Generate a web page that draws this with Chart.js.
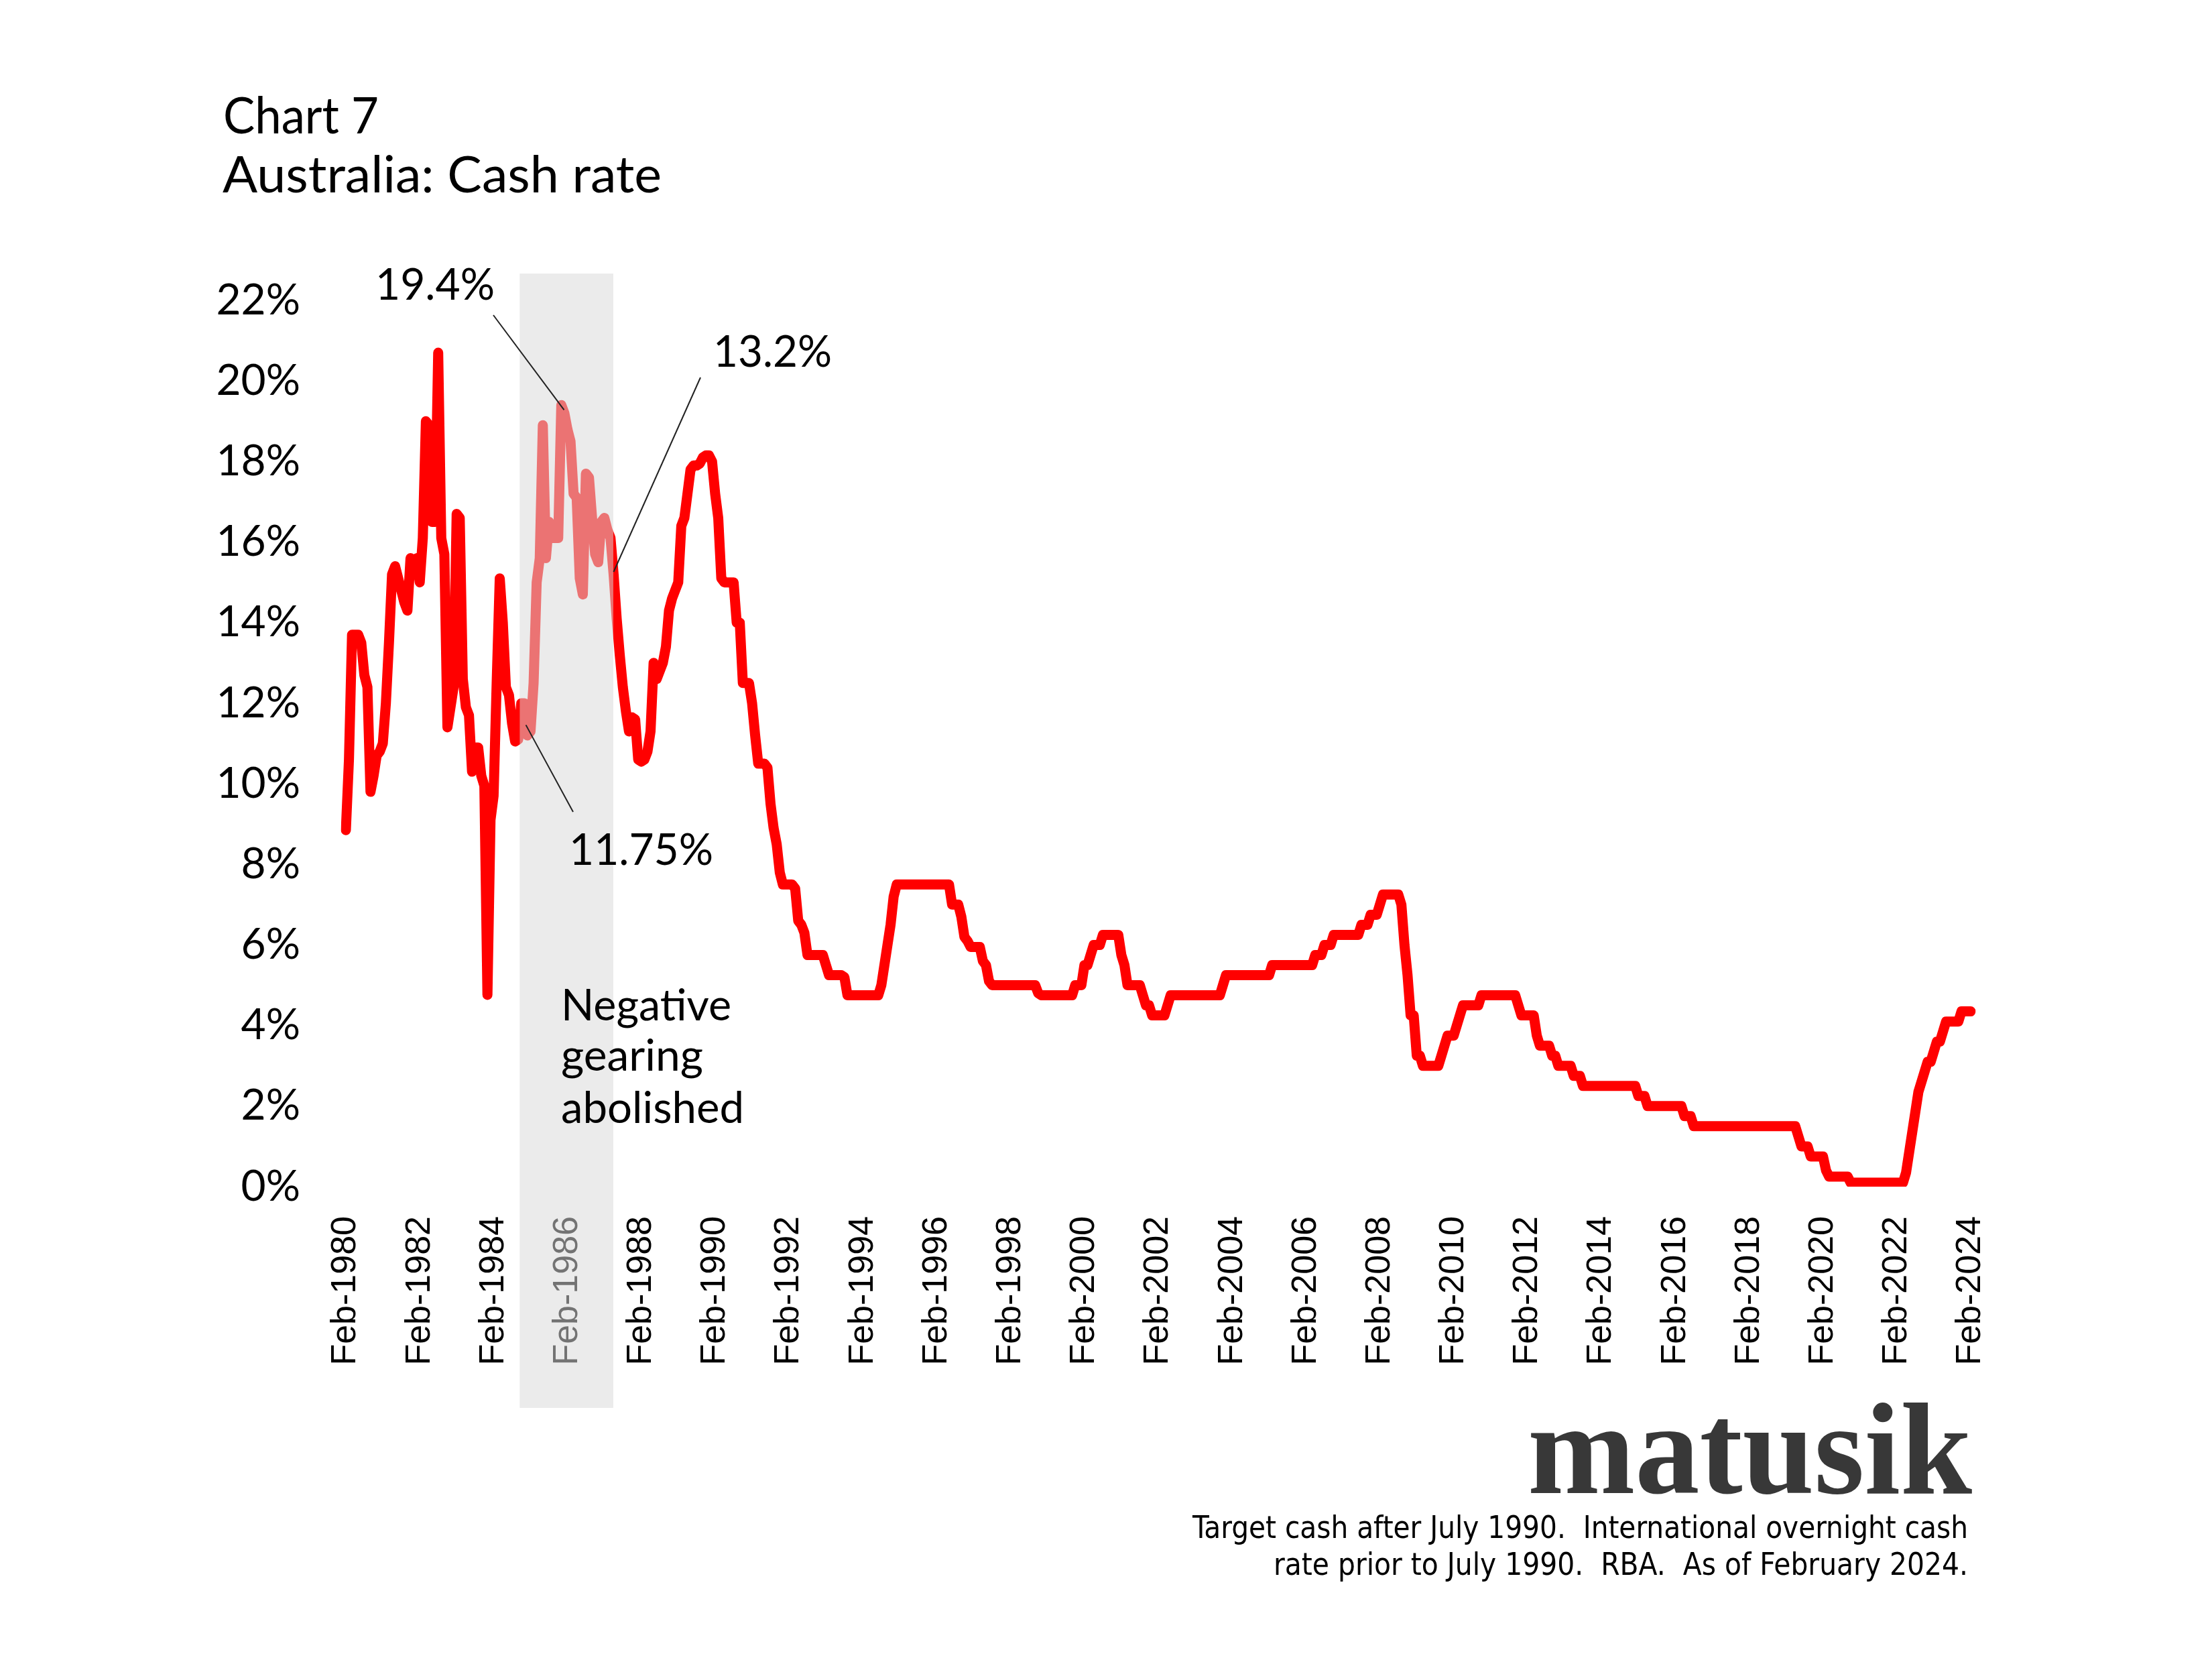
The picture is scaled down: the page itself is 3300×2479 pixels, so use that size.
<!DOCTYPE html>
<html>
<head>
<meta charset="utf-8">
<title>Chart 7 - Australia: Cash rate</title>
<script src="https://cdn.jsdelivr.net/npm/chart.js@4.4.1/dist/chart.umd.min.js"></script>
<style>
  html, body { margin: 0; padding: 0; background: #ffffff; }
  #wrap { width: 3300px; height: 2479px; }
</style>
</head>
<body>
<div id="wrap"><canvas id="cashChart" width="3300" height="2479"></canvas></div>
<script>
// Category labels: monthly, Feb-1980 to Feb-2024
const monthNames = ['Jan', 'Feb', 'Mar', 'Apr', 'May', 'Jun', 'Jul', 'Aug', 'Sep', 'Oct', 'Nov', 'Dec'];
const startYear = 1980;
const startMonth = 1;      // Feb
const monthCount = 529;    // Feb-1980 .. Feb-2024
const tickEvery = 24;      // one label every two years

// Cash rate (%), one value per month
const cash1980s = [
  8.85, 10.6, 13.7, 13.7, 13.7, 13.5, 12.7, 12.4, 9.8, 10.2, 10.7,            // 1980 (Feb-Dec)
  10.8, 11.0, 12.0, 13.5, 15.2, 15.4, 15.1, 14.8, 14.5, 14.3, 15.6, 15.5,     // 1981
  15.6, 15.0, 16.1, 19.0, 18.9, 16.5, 16.5, 20.7, 16.1, 15.7, 11.4, 11.9,     // 1982
  12.4, 16.7, 16.6, 12.6, 11.9, 11.7, 10.3, 10.9, 10.9, 10.2, 9.95, 4.76,     // 1983
  9.1, 9.7, 12.5, 15.1, 14.0, 12.4, 12.2, 11.5, 11.05, 11.1, 12.0, 12.0,      // 1984
  11.2, 11.3, 12.5, 15.0, 15.6, 18.9, 15.6, 16.5, 16.1, 16.1, 16.1, 19.4,     // 1985
  19.2, 18.8, 18.5, 17.2, 17.1, 15.1, 14.7, 17.7, 17.6, 16.6, 15.7, 15.5,     // 1986
  16.5, 16.6, 16.3, 16.1, 15.2, 14.1, 13.2, 12.4, 11.8, 11.3, 11.65, 11.6,    // 1987
  10.6, 10.55, 10.6, 10.8, 11.3, 13.0, 12.6, 12.8, 13.0, 13.4, 14.3, 14.6,    // 1988
  14.8, 15.0, 16.4, 16.6, 17.2, 17.8, 17.9, 17.9, 17.95, 18.1, 18.15, 18.15   // 1989
];
const cash1990s = [
  18.0, 17.2, 16.6, 15.1, 15.0, 15.0, 15.0, 15.0, 14.0, 14.0, 12.5, 12.5,     // 1990
  12.5, 12.0, 11.2, 10.5, 10.5, 10.5, 10.4, 9.5, 8.9, 8.5, 7.8, 7.5,          // 1991
  7.5, 7.5, 7.5, 7.4, 6.6, 6.5, 6.3, 5.75, 5.75, 5.75, 5.75, 5.75,            // 1992
  5.75, 5.5, 5.25, 5.25, 5.25, 5.25, 5.25, 5.2, 4.75, 4.75, 4.75, 4.75,       // 1993
  4.75, 4.75, 4.75, 4.75, 4.75, 4.75, 4.75, 5.0, 5.5, 6.0, 6.5, 7.2,          // 1994
  7.5, 7.5, 7.5, 7.5, 7.5, 7.5, 7.5, 7.5, 7.5, 7.5, 7.5, 7.5,                 // 1995
  7.5, 7.5, 7.5, 7.5, 7.5, 7.5, 7.0, 7.0, 7.0, 6.7, 6.2, 6.1,                 // 1996
  5.95, 5.95, 5.95, 5.95, 5.6, 5.5, 5.1, 5.0, 5.0, 5.0, 5.0, 5.0,             // 1997
  5.0, 5.0, 5.0, 5.0, 5.0, 5.0, 5.0, 5.0, 5.0, 5.0, 4.8, 4.75,                // 1998
  4.75, 4.75, 4.75, 4.75, 4.75, 4.75, 4.75, 4.75, 4.75, 4.75, 5.0, 5.0        // 1999
];
const cash2000s = [
  5.0, 5.5, 5.5, 5.75, 6.0, 6.0, 6.0, 6.25, 6.25, 6.25, 6.25, 6.25,           // 2000
  6.25, 5.75, 5.5, 5.0, 5.0, 5.0, 5.0, 5.0, 4.75, 4.5, 4.5, 4.25,             // 2001
  4.25, 4.25, 4.25, 4.25, 4.5, 4.75, 4.75, 4.75, 4.75, 4.75, 4.75, 4.75,      // 2002
  4.75, 4.75, 4.75, 4.75, 4.75, 4.75, 4.75, 4.75, 4.75, 4.75, 5.0, 5.25,      // 2003
  5.25, 5.25, 5.25, 5.25, 5.25, 5.25, 5.25, 5.25, 5.25, 5.25, 5.25, 5.25,     // 2004
  5.25, 5.25, 5.5, 5.5, 5.5, 5.5, 5.5, 5.5, 5.5, 5.5, 5.5, 5.5,               // 2005
  5.5, 5.5, 5.5, 5.5, 5.75, 5.75, 5.75, 6.0, 6.0, 6.0, 6.25, 6.25,            // 2006
  6.25, 6.25, 6.25, 6.25, 6.25, 6.25, 6.25, 6.5, 6.5, 6.5, 6.75, 6.75,        // 2007
  6.75, 7.0, 7.25, 7.25, 7.25, 7.25, 7.25, 7.25, 7.0, 6.0, 5.25, 4.25,        // 2008
  4.25, 3.25, 3.25, 3.0, 3.0, 3.0, 3.0, 3.0, 3.0, 3.25, 3.5, 3.75             // 2009
];
const cash2010s = [
  3.75, 3.75, 4.0, 4.25, 4.5, 4.5, 4.5, 4.5, 4.5, 4.5, 4.75, 4.75,            // 2010
  4.75, 4.75, 4.75, 4.75, 4.75, 4.75, 4.75, 4.75, 4.75, 4.75, 4.5, 4.25,      // 2011
  4.25, 4.25, 4.25, 4.25, 3.75, 3.5, 3.5, 3.5, 3.5, 3.25, 3.25, 3.0,          // 2012
  3.0, 3.0, 3.0, 3.0, 2.75, 2.75, 2.75, 2.5, 2.5, 2.5, 2.5, 2.5,              // 2013
  2.5, 2.5, 2.5, 2.5, 2.5, 2.5, 2.5, 2.5, 2.5, 2.5, 2.5, 2.5,                 // 2014
  2.5, 2.25, 2.25, 2.25, 2.0, 2.0, 2.0, 2.0, 2.0, 2.0, 2.0, 2.0,              // 2015
  2.0, 2.0, 2.0, 2.0, 1.75, 1.75, 1.75, 1.5, 1.5, 1.5, 1.5, 1.5,              // 2016
  1.5, 1.5, 1.5, 1.5, 1.5, 1.5, 1.5, 1.5, 1.5, 1.5, 1.5, 1.5,                 // 2017
  1.5, 1.5, 1.5, 1.5, 1.5, 1.5, 1.5, 1.5, 1.5, 1.5, 1.5, 1.5,                 // 2018
  1.5, 1.5, 1.5, 1.5, 1.5, 1.25, 1.0, 1.0, 1.0, 0.75, 0.75, 0.75              // 2019
];
const cash2020s = [
  0.75, 0.75, 0.4, 0.25, 0.25, 0.25, 0.25, 0.25, 0.25, 0.25, 0.1, 0.1,        // 2020
  0.1, 0.1, 0.1, 0.1, 0.1, 0.1, 0.1, 0.1, 0.1, 0.1, 0.1, 0.1,                 // 2021
  0.1, 0.1, 0.1, 0.1, 0.35, 0.85, 1.35, 1.85, 2.35, 2.6, 2.85, 3.1,           // 2022
  3.1, 3.35, 3.6, 3.6, 3.85, 4.1, 4.1, 4.1, 4.1, 4.1, 4.35, 4.35,             // 2023
  4.35, 4.35                                                                  // 2024 (Jan-Feb)
];

// Shaded period (category index) and the callouts
const bandStart = 56.5;
const bandEnd = 86.9;
const calloutText = ['19.4%', '13.2%', '11.75%'];
const calloutIndex = [70.9, 87.0, 58.5];
const calloutValue = [19.28, 15.26, 11.46];
const noteLines = ['Negative', 'gearing', 'abolished'];

const titleLines = ['Chart 7', 'Australia: Cash rate'];
const sourceLines = [
  'Target cash after July 1990.  International overnight cash',
  'rate prior to July 1990.  RBA.  As of February 2024.'
];
const brand = 'matusik';

// Build labels and series
let labels = [];
for (let i = 0; i < monthCount; i++) {
  let m = startMonth + i;
  labels.push(monthNames[m % 12] + '-' + (startYear + Math.floor(m / 12)));
}
const cashRate = cash1980s.concat(cash1990s, cash2000s, cash2010s, cash2020s);

const sans = 'Lato, "Noto Sans", sans-serif';

// Draw a line of text scaled horizontally to a given width
function fitText(ctx, text, x, baseline, width, align) {
  let w = ctx.measureText(text).width;
  ctx.save();
  ctx.translate(x, baseline);
  ctx.scale(width / w, 1);
  ctx.textAlign = align;
  ctx.fillText(text, 0, 0);
  ctx.restore();
}

const decorPlugin = {
  id: 'decor',
  beforeDraw(chart) {
    const ctx = chart.ctx;
    ctx.save();
    ctx.fillStyle = '#ffffff';
    ctx.fillRect(0, 0, chart.width, chart.height);
    ctx.restore();
  },
  afterDatasetsDraw(chart) {
    // translucent band on top of line and tick labels
    const ctx = chart.ctx;
    const xs = chart.scales.x;
    const area = chart.chartArea;
    let x0 = xs.getPixelForValue(bandStart);
    let x1 = xs.getPixelForValue(bandEnd);
    ctx.save();
    ctx.fillStyle = 'rgba(217, 217, 217, 0.53)';
    ctx.fillRect(x0, area.top - 40, x1 - x0, area.bottom - area.top + 370);
    ctx.restore();
  },
  afterDraw(chart) {
    const ctx = chart.ctx;
    const xs = chart.scales.x;
    const ys = chart.scales.y;
    ctx.save();
    ctx.fillStyle = '#000000';
    ctx.textBaseline = 'alphabetic';

    // title
    ctx.font = '76px ' + sans;
    fitText(ctx, titleLines[0], 333, 199, 232, 'left');
    fitText(ctx, titleLines[1], 332, 287, 655, 'left');

    // callouts with leader lines
    const textPos = [[560, 447], [1064, 547], [849, 1290]];
    const textWidth = [178, 177, 215];
    const leadFrom = [[736, 470], [1045, 563], [855, 1211]];
    ctx.strokeStyle = '#222222';
    ctx.lineWidth = 2;
    ctx.font = '65px ' + sans;
    for (let i = 0; i < calloutText.length; i++) {
      let px = xs.getPixelForValue(calloutIndex[i]);
      let py = ys.getPixelForValue(calloutValue[i]);
      ctx.beginPath();
      ctx.moveTo(leadFrom[i][0], leadFrom[i][1]);
      ctx.lineTo(px, py);
      ctx.stroke();
      fitText(ctx, calloutText[i], textPos[i][0], textPos[i][1], textWidth[i], 'left');
    }

    // note inside the band
    fitText(ctx, noteLines[0], 837, 1522, 254, 'left');
    fitText(ctx, noteLines[1], 837, 1597, 212, 'left');
    fitText(ctx, noteLines[2], 837, 1675, 273, 'left');

    // brand and source
    ctx.fillStyle = '#383838';
    ctx.font = 'bold 195px "Liberation Serif", "DejaVu Serif", serif';
    fitText(ctx, brand, 2942, 2227, 663, 'right');
    ctx.fillStyle = '#000000';
    ctx.font = '46px "Liberation Sans Narrow", "DejaVu Sans Condensed", ' + sans;
    fitText(ctx, sourceLines[0], 2936, 2294, 1157, 'right');
    fitText(ctx, sourceLines[1], 2936, 2349, 1036, 'right');
    ctx.restore();
  }
};

const ctx = document.getElementById('cashChart').getContext('2d');
const cashChart = new Chart(ctx, {
  type: 'line',
  data: {
    labels: labels,
    datasets: [{
      label: 'Cash rate',
      data: cashRate,
      borderColor: '#ff0000',
      borderWidth: 15,
      borderJoinStyle: 'round',
      borderCapStyle: 'round',
      pointRadius: 0,
      tension: 0,
      fill: false
    }]
  },
  options: {
    responsive: false,
    animation: false,
    devicePixelRatio: 1,
    layout: { padding: { top: 448, right: 360, left: 0, bottom: 0 } },
    plugins: {
      legend: { display: false },
      title: { display: false },
      tooltip: { enabled: false }
    },
    scales: {
      x: {
        type: 'category',
        offset: false,
        grid: { display: false, drawTicks: false },
        border: { display: false },
        ticks: {
          autoSkip: false,
          minRotation: 90,
          maxRotation: 90,
          padding: 44,
          color: '#000000',
          font: { family: '"Liberation Sans", Arial, sans-serif', size: 52 },
          callback: function (value, index) {
            return index % tickEvery === 0 ? labels[index] : null;
          }
        },
        afterFit: function (scale) { scale.height = 709; }
      },
      y: {
        min: 0,
        max: 22,
        grid: { display: false, drawTicks: false },
        border: { display: false },
        ticks: {
          stepSize: 2,
          padding: 68,
          color: '#000000',
          font: { family: sans, size: 64 },
          callback: function (value) { return value + '%'; }
        },
        afterFit: function (scale) { scale.width = 516; }
      }
    }
  },
  plugins: [decorPlugin]
});
</script>
</body>
</html>
